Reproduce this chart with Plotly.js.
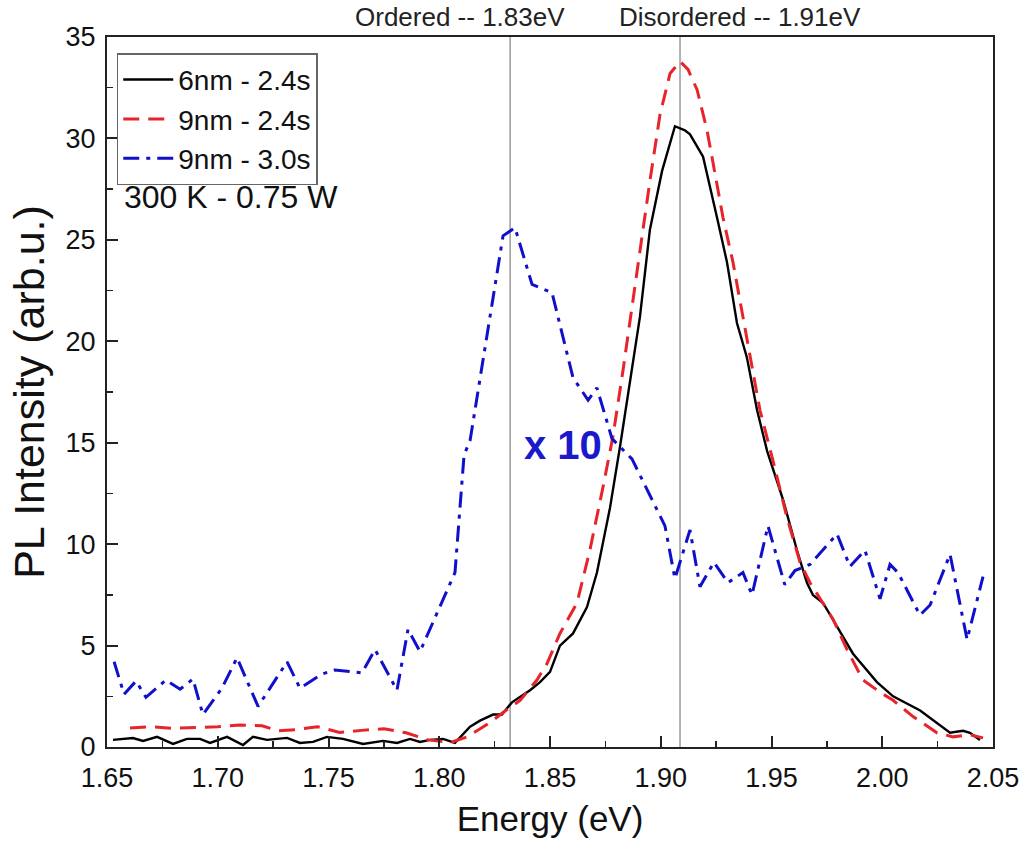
<!DOCTYPE html>
<html>
<head>
<meta charset="utf-8">
<script src="https://cdn.plot.ly/plotly-3.0.1.min.js"></script>
<style>html,body{margin:0;padding:0;background:#fff;}#chart{width:1025px;height:858px;}</style>
</head>
<body>
<div id="chart"></div>
<script>
// 6nm - 2.4s (black)
const energy6nm24 = [1.6527,1.6617,1.6663,1.6726,1.6798,1.6861,1.692,1.6965,1.7042,1.7114,1.7159,1.7222,1.7313,1.7371,1.743,1.7493,1.7565,1.7656,1.7746,1.7809,1.7868,1.7913,1.7958,1.8017,1.8071,1.8139,1.8184,1.8243,1.8283,1.8328,1.841,1.8455,1.85,1.8545,1.8604,1.8667,1.8712,1.8771,1.8816,1.8861,1.8906,1.8951,1.9006,1.9064,1.9109,1.9132,1.9191,1.9254,1.9299,1.9344,1.9389,1.9435,1.948,1.9552,1.9615,1.966,1.9687,1.9733,1.9796,1.9868,1.9976,2.0049,2.0171,2.0247,2.0306,2.0365,2.0396,2.0441];
const pl6nm24 = [0.35,0.44,0.3,0.5,0.15,0.4,0.4,0.2,0.5,0.1,0.5,0.35,0.45,0.2,0.25,0.5,0.4,0.15,0.3,0.2,0.4,0.25,0.35,0.4,0.2,1.0,1.3,1.6,1.6,2.2,2.8,3.2,3.7,5.0,5.6,6.9,8.6,11.8,14.8,18.1,21.2,25.5,28.4,30.6,30.4,30.2,29.1,26.1,23.9,20.9,19.2,16.6,14.6,12.2,9.7,8.1,7.5,7.1,5.9,4.6,3.2,2.5,1.8,1.2,0.7,0.8,0.7,0.35];

// 9nm - 2.4s (red dashed)
const energy9nm24 = [1.6604,1.67,1.68,1.69,1.70,1.71,1.72,1.727,1.735,1.745,1.755,1.765,1.775,1.785,1.795,1.805,1.8125,1.8229,1.8288,1.8365,1.8441,1.8486,1.8545,1.8622,1.868,1.8739,1.8784,1.883,1.8861,1.8906,1.8951,1.8997,1.9042,1.9087,1.9123,1.9164,1.9209,1.9236,1.9281,1.9326,1.9389,1.9448,1.9507,1.957,1.9629,1.9674,1.9778,1.9841,1.9913,1.999,2.0049,2.0139,2.0247,2.032,2.0396,2.0455];
const pl9nm24 = [0.94,1.0,0.92,0.95,1.0,1.08,1.05,0.8,0.85,1.0,0.72,0.82,0.9,0.7,0.35,0.22,0.5,1.2,1.7,2.3,3.3,4.1,5.6,7.1,9.7,12.8,15.3,18.6,21.0,24.6,27.9,31.2,33.2,33.8,33.4,32.4,30.4,28.8,26.1,23.9,20.1,16.6,14.1,11.3,9.1,8.1,6.3,4.8,3.3,2.7,2.3,1.5,0.7,0.5,0.6,0.45];

// 9nm - 3.0s (blue dash-dot, x10)
const energy9nm30 = [1.6532,1.6577,1.6631,1.6676,1.6766,1.683,1.6888,1.6933,1.7019,1.7087,1.7182,1.7313,1.7371,1.7471,1.7529,1.7651,1.771,1.7809,1.7859,1.7913,1.8071,1.8112,1.8139,1.8288,1.8342,1.8419,1.8509,1.8604,1.8672,1.8712,1.878,1.887,1.9019,1.9064,1.9132,1.9177,1.924,1.9304,1.9371,1.9412,1.9484,1.956,1.9606,1.9674,1.9796,1.9854,1.9922,1.999,2.0035,2.0071,2.017,2.0216,2.0306,2.0383,2.0455];
const pl9nm30 = [4.2,2.6,3.25,2.45,3.3,2.85,3.35,1.6,2.9,4.4,2.0,4.2,2.9,3.6,3.8,3.65,4.8,2.8,5.8,4.7,8.6,14.4,15.1,25.2,25.6,22.8,22.4,18.2,17.1,17.7,15.2,14.2,10.9,8.3,10.7,7.9,9.1,8.1,8.6,7.5,10.9,8.0,8.7,9.0,10.5,8.9,9.7,7.3,9.0,8.6,6.5,7.0,9.5,5.3,8.4];

const seriesNames = ["6nm - 2.4s", "9nm - 2.4s", "9nm - 3.0s"];
const markerLines = [1.832, 1.9087];
const markerLabels = ["Ordered -- 1.83eV", "Disordered -- 1.91eV"];
const xTicks = [1.65,1.70,1.75,1.80,1.85,1.90,1.95,2.00,2.05];
const yTicks = [0,5,10,15,20,25,30,35];

const FONT = "'Liberation Sans', Arial, sans-serif";

const traces = [
  {x: energy6nm24, y: pl6nm24, name: seriesNames[0], mode: 'lines', line: {color: '#000000', width: 2.4}},
  {x: energy9nm24, y: pl9nm24, name: seriesNames[1], mode: 'lines', line: {color: '#e8242b', width: 3, dash: '16px,9px'}},
  {x: energy9nm30, y: pl9nm30, name: seriesNames[2], mode: 'lines', line: {color: '#1010cc', width: 3, dash: '16px,7px,4px,7px'}}
];

const shapes = markerLines.map(v => ({
  type: 'line', xref: 'x', yref: 'paper', x0: v, x1: v, y0: 0, y1: 1,
  line: {color: '#9a9a9a', width: 1.5}, layer: 'below'
}));

const annotations = [
  {x: 1.8094, y: 1.028, xref: 'x', yref: 'paper', text: markerLabels[0], showarrow: false, font: {family: FONT, size: 26, color: '#222'}, xanchor: 'center', yanchor: 'middle'},
  {x: 1.9358, y: 1.028, xref: 'x', yref: 'paper', text: markerLabels[1], showarrow: false, font: {family: FONT, size: 26, color: '#222'}, xanchor: 'center', yanchor: 'middle'},
  {x: 1.8559, y: 14.9, xref: 'x', yref: 'y', text: '<b>x 10</b>', showarrow: false, font: {family: FONT, size: 40, color: '#1a1acc'}, xanchor: 'center', yanchor: 'middle'},
  {x: 0.017, y: 0.775, xref: 'paper', yref: 'paper', text: '300 K - 0.75 W', showarrow: false, font: {family: FONT, size: 32, color: '#111'}, xanchor: 'left', yanchor: 'middle'}
];

const axisCommon = {
  showgrid: false, zeroline: false, showline: true, linecolor: '#222', linewidth: 2, mirror: true,
  ticks: 'inside', ticklen: 11, tickwidth: 2, tickcolor: '#222',
  tickfont: {family: FONT, size: 27, color: '#111'}
};

const layout = {
  width: 1025, height: 858,
  margin: {l: 107, r: 32, t: 37, b: 111},
  paper_bgcolor: '#fff', plot_bgcolor: '#fff',
  font: {family: FONT, color: '#111'},
  xaxis: Object.assign({}, axisCommon, {
    range: [1.65, 2.05], tickvals: xTicks, ticktext: xTicks.map(v => v.toFixed(2)),
    ticklabelstandoff: 6,
    minor: {ticks: 'inside', ticklen: 6, tickwidth: 1.5, tickcolor: '#222', dtick: 0.025, tick0: 1.65},
    title: {text: 'Energy (eV)', font: {family: FONT, size: 35, color: '#111'}, standoff: 14}
  }),
  yaxis: Object.assign({}, axisCommon, {
    range: [0, 35], tickvals: yTicks, ticktext: yTicks.map(String),
    ticklabelstandoff: 4,
    minor: {ticks: 'inside', ticklen: 6, tickwidth: 1.5, tickcolor: '#222', dtick: 2.5, tick0: 0},
    title: {text: 'PL Intensity (arb.u.)', font: {family: FONT, size: 43, color: '#111'}, standoff: 8}
  }),
  showlegend: true,
  legend: {
    x: 0.011, y: 0.977, xanchor: 'left', yanchor: 'top',
    bgcolor: 'rgba(255,255,255,0)', bordercolor: '#666', borderwidth: 1.5,
    font: {family: FONT, size: 28, color: '#111'},
    itemwidth: 50, tracegroupgap: 0
  },
  shapes: shapes,
  annotations: annotations
};

Plotly.newPlot('chart', traces, layout, {staticPlot: true, displayModeBar: false});
</script>
</body>
</html>
